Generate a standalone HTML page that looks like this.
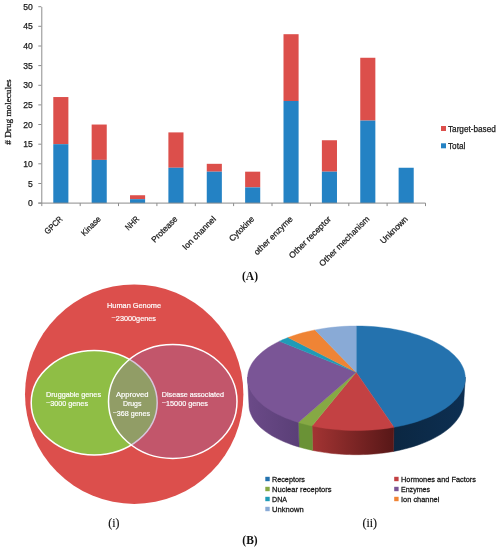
<!DOCTYPE html>
<html lang="en"><head><meta charset="utf-8"><title>Figure</title>
<style>html,body{margin:0;padding:0;background:#fff;}body{width:500px;height:550px;overflow:hidden;}svg{display:block;}text{font-family:"Liberation Sans", "DejaVu Sans", sans-serif;}.serif{font-family:"Liberation Serif", "DejaVu Serif", serif;}</style></head><body>
<svg width="500" height="550" viewBox="0 0 500 550">
<rect width="500" height="550" fill="#ffffff"/>
<g id="bars">
<rect x="53.29" y="97.04" width="15.10" height="47.14" fill="#dc4f4b"/>
<rect x="53.29" y="144.18" width="15.10" height="58.92" fill="#2482c4"/>
<rect x="91.65" y="124.54" width="15.10" height="35.35" fill="#dc4f4b"/>
<rect x="91.65" y="159.89" width="15.10" height="43.21" fill="#2482c4"/>
<rect x="130.02" y="195.24" width="15.10" height="3.93" fill="#dc4f4b"/>
<rect x="130.02" y="199.17" width="15.10" height="3.93" fill="#2482c4"/>
<rect x="168.39" y="132.40" width="15.10" height="35.35" fill="#dc4f4b"/>
<rect x="168.39" y="167.75" width="15.10" height="35.35" fill="#2482c4"/>
<rect x="206.76" y="163.82" width="15.10" height="7.86" fill="#dc4f4b"/>
<rect x="206.76" y="171.68" width="15.10" height="31.42" fill="#2482c4"/>
<rect x="245.13" y="171.68" width="15.10" height="15.71" fill="#dc4f4b"/>
<rect x="245.13" y="187.39" width="15.10" height="15.71" fill="#2482c4"/>
<rect x="283.50" y="34.20" width="15.10" height="66.78" fill="#dc4f4b"/>
<rect x="283.50" y="100.97" width="15.10" height="102.13" fill="#2482c4"/>
<rect x="321.88" y="140.25" width="15.10" height="31.42" fill="#dc4f4b"/>
<rect x="321.88" y="171.68" width="15.10" height="31.42" fill="#2482c4"/>
<rect x="360.25" y="57.76" width="15.10" height="62.85" fill="#dc4f4b"/>
<rect x="360.25" y="120.61" width="15.10" height="82.49" fill="#2482c4"/>
<rect x="398.62" y="167.75" width="15.10" height="35.35" fill="#2482c4"/>
</g>
<g stroke="#8c8c8c" stroke-width="1" fill="none">
<path d="M41.8 7 V203.1"/>
<path d="M38.3 203.1 H425.5"/>
<path d="M41.8 203.1 v3"/>
<path d="M80.2 203.1 v3"/>
<path d="M118.5 203.1 v3"/>
<path d="M156.9 203.1 v3"/>
<path d="M195.3 203.1 v3"/>
<path d="M233.6 203.1 v3"/>
<path d="M272.0 203.1 v3"/>
<path d="M310.4 203.1 v3"/>
<path d="M348.8 203.1 v3"/>
<path d="M387.1 203.1 v3"/>
<path d="M425.5 203.1 v3"/>
<path d="M38.3 203.1 h3"/>
<path d="M38.3 183.5 h3"/>
<path d="M38.3 163.8 h3"/>
<path d="M38.3 144.2 h3"/>
<path d="M38.3 124.5 h3"/>
<path d="M38.3 104.9 h3"/>
<path d="M38.3 85.3 h3"/>
<path d="M38.3 65.6 h3"/>
<path d="M38.3 46.0 h3"/>
<path d="M38.3 26.3 h3"/>
<path d="M38.3 6.7 h3"/>
</g>
<g font-size="8.6" fill="#1a1a1a" stroke="#1a1a1a" stroke-width="0.25" text-anchor="end">
<text x="32.9" y="206.1">0</text>
<text x="32.9" y="186.5">5</text>
<text x="32.9" y="166.8">10</text>
<text x="32.9" y="147.2">15</text>
<text x="32.9" y="127.5">20</text>
<text x="32.9" y="107.9">25</text>
<text x="32.9" y="88.3">30</text>
<text x="32.9" y="68.6">35</text>
<text x="32.9" y="49.0">40</text>
<text x="32.9" y="29.3">45</text>
<text x="32.9" y="9.7">50</text>
</g>
<g font-size="8.4" fill="#1a1a1a" stroke="#1a1a1a" stroke-width="0.25" text-anchor="end">
<text transform="translate(63.0 219.6) rotate(-45)" x="0" y="0" textLength="21.48" lengthAdjust="spacingAndGlyphs">GPCR</text>
<text transform="translate(101.4 219.6) rotate(-45)" x="0" y="0" textLength="23.76" lengthAdjust="spacingAndGlyphs">Kinase</text>
<text transform="translate(139.7 219.6) rotate(-45)" x="0" y="0" textLength="15.83" lengthAdjust="spacingAndGlyphs">NHR</text>
<text transform="translate(178.1 219.6) rotate(-45)" x="0" y="0" textLength="33.12" lengthAdjust="spacingAndGlyphs">Protease</text>
<text transform="translate(216.5 219.6) rotate(-45)" x="0" y="0" textLength="43.44" lengthAdjust="spacingAndGlyphs">Ion channel</text>
<text transform="translate(254.8 219.6) rotate(-45)" x="0" y="0" textLength="31.70" lengthAdjust="spacingAndGlyphs">Cytokine</text>
<text transform="translate(293.2 219.6) rotate(-45)" x="0" y="0" textLength="50.89" lengthAdjust="spacingAndGlyphs">other enzyme</text>
<text transform="translate(331.6 219.6) rotate(-45)" x="0" y="0" textLength="55.78" lengthAdjust="spacingAndGlyphs">Other receptor</text>
<text transform="translate(369.9 219.6) rotate(-45)" x="0" y="0" textLength="66.95" lengthAdjust="spacingAndGlyphs">Other mechanism</text>
<text transform="translate(408.3 219.6) rotate(-45)" x="0" y="0" textLength="35.02" lengthAdjust="spacingAndGlyphs">Unknown</text>
</g>
<text class="serif" font-size="9.2" fill="#1a1a1a" stroke="#1a1a1a" stroke-width="0.3" text-anchor="middle" transform="translate(11.3 112) rotate(-90)"># Drug molecules</text>
<rect x="441" y="126" width="5" height="5" fill="#dc4f4b"/>
<text x="448" y="131.8" font-size="8.2" fill="#1a1a1a" stroke="#1a1a1a" stroke-width="0.25">Target-based</text>
<rect x="441" y="143.3" width="5" height="5" fill="#2482c4"/>
<text x="448" y="149.1" font-size="8.2" fill="#1a1a1a" stroke="#1a1a1a" stroke-width="0.25">Total</text>
<text class="serif" font-size="11.5" font-weight="bold" fill="#111" text-anchor="middle" x="250" y="279.8">(A)</text>
<g id="venn">
<ellipse cx="134.2" cy="394.2" rx="109.2" ry="109.7" fill="#dc4f4c"/>
<ellipse cx="94.2" cy="402.75" rx="63" ry="52.25" fill="#8fbe45" stroke="#fff" stroke-width="1.5"/>
<ellipse cx="172.75" cy="401.5" rx="64.25" ry="57" fill="#9664a0" fill-opacity="0.37"/>
<ellipse cx="172.75" cy="401.5" rx="64.25" ry="57" fill="none" stroke="#fff" stroke-width="1.5"/>
<g font-size="8" fill="#fff" stroke="#fff" stroke-width="0.2" lengthAdjust="spacingAndGlyphs">
<text x="134.0" y="307.8" text-anchor="middle" textLength="54.0" lengthAdjust="spacingAndGlyphs">Human Genome</text>
<text x="133.8" y="320.8" text-anchor="middle" textLength="44.4" lengthAdjust="spacingAndGlyphs"><tspan dy="-0.9">~</tspan><tspan dy="0.9">23000genes</tspan></text>
<text x="46.0" y="396.6" text-anchor="start" textLength="55.0" lengthAdjust="spacingAndGlyphs">Druggable genes</text>
<text x="46.0" y="406.0" text-anchor="start" textLength="42.0" lengthAdjust="spacingAndGlyphs"><tspan dy="-0.9">~</tspan><tspan dy="0.9">3000 genes</tspan></text>
<text x="132.2" y="396.6" text-anchor="middle" textLength="32.6" lengthAdjust="spacingAndGlyphs">Approved</text>
<text x="132.2" y="406.0" text-anchor="middle" textLength="18.5" lengthAdjust="spacingAndGlyphs">Drugs</text>
<text x="131.4" y="415.6" text-anchor="middle" textLength="37.4" lengthAdjust="spacingAndGlyphs"><tspan dy="-0.9">~</tspan><tspan dy="0.9">368 genes</tspan></text>
<text x="161.8" y="396.6" text-anchor="start" textLength="62.2" lengthAdjust="spacingAndGlyphs">Disease associated</text>
<text x="161.8" y="406.0" text-anchor="start" textLength="46.2" lengthAdjust="spacingAndGlyphs"><tspan dy="-0.9">~</tspan><tspan dy="0.9">15000 genes</tspan></text>
</g></g>
<text class="serif" font-size="11.9" fill="#111" stroke="#111" stroke-width="0.15" text-anchor="middle" x="113.8" y="527.4">(i)</text>
<text class="serif" font-size="11.9" fill="#111" stroke="#111" stroke-width="0.15" text-anchor="middle" x="369.7" y="527.4">(ii)</text>
<text class="serif" font-size="11.5" font-weight="bold" fill="#111" text-anchor="middle" x="250" y="544.4">(B)</text>
<defs>
<linearGradient id="gred" x1="0" x2="1" y1="0" y2="0"><stop offset="0" stop-color="#a33433"/><stop offset="1" stop-color="#571717"/></linearGradient>
<linearGradient id="gblue" x1="0" x2="1" y1="0" y2="0"><stop offset="0" stop-color="#0b2742"/><stop offset="1" stop-color="#0d2f52"/></linearGradient>
<linearGradient id="gpur" x1="0" x2="1" y1="0" y2="0"><stop offset="0" stop-color="#6b4a88"/><stop offset="1" stop-color="#5a3f77"/></linearGradient>
</defs>
<g id="pie">
<path d="M465.30 377.05 L465.16 379.70 L464.74 382.35 L464.04 384.98 L463.06 387.59 L461.81 390.17 L460.29 392.72 L458.50 395.23 L456.44 397.69 L454.13 400.10 L451.57 402.45 L448.76 404.73 L445.71 406.95 L442.44 409.08 L438.94 411.13 L435.23 413.10 L431.31 414.97 L427.21 416.75 L422.92 418.42 L418.46 419.99 L413.84 421.44 L409.07 422.78 L404.16 424.01 L399.14 425.11 L394.00 426.09 L393.48 451.41 L398.55 450.41 L403.51 449.28 L408.34 448.03 L413.05 446.65 L417.60 445.16 L422.00 443.56 L426.23 441.85 L430.28 440.03 L434.14 438.11 L437.80 436.10 L441.25 434.00 L444.48 431.81 L447.49 429.54 L450.26 427.21 L452.79 424.80 L455.07 422.33 L457.09 419.81 L458.86 417.24 L460.36 414.63 L461.59 411.99 L462.56 409.32 L463.25 406.62 L463.66 403.91 L463.80 401.20Z" fill="url(#gblue)" stroke="url(#gblue)" stroke-width="0.5"/>
<path d="M394.00 426.09 L390.69 426.64 L387.35 427.15 L383.97 427.60 L380.57 428.00 L377.14 428.34 L373.69 428.64 L370.22 428.88 L366.73 429.06 L363.24 429.20 L359.74 429.28 L356.23 429.30 L352.73 429.27 L349.23 429.19 L345.74 429.05 L342.25 428.86 L338.79 428.61 L335.34 428.31 L331.91 427.96 L328.51 427.56 L325.13 427.10 L321.79 426.59 L318.49 426.03 L315.22 425.42 L312.00 424.76 L312.61 450.38 L315.79 451.01 L319.01 451.59 L322.27 452.12 L325.56 452.61 L328.89 453.04 L332.25 453.43 L335.63 453.76 L339.03 454.05 L342.45 454.28 L345.88 454.46 L349.33 454.59 L352.78 454.67 L356.24 454.70 L359.69 454.67 L363.15 454.59 L366.59 454.46 L370.03 454.27 L373.45 454.02 L376.85 453.72 L380.23 453.37 L383.59 452.96 L386.92 452.49 L390.22 451.98 L393.48 451.41Z" fill="url(#gred)" stroke="url(#gred)" stroke-width="0.5"/>
<path d="M312.00 424.76 L311.41 424.63 L310.82 424.50 L310.23 424.37 L309.65 424.24 L309.06 424.11 L308.48 423.97 L307.90 423.83 L307.32 423.69 L306.74 423.55 L306.17 423.41 L305.59 423.26 L305.02 423.12 L304.45 422.97 L303.88 422.82 L303.31 422.67 L302.75 422.52 L302.19 422.36 L301.62 422.21 L301.07 422.05 L300.51 421.89 L299.95 421.73 L299.40 421.57 L298.85 421.41 L298.30 421.24 L299.10 447.04 L299.64 447.19 L300.19 447.35 L300.73 447.50 L301.28 447.65 L301.83 447.81 L302.38 447.96 L302.93 448.10 L303.49 448.25 L304.04 448.39 L304.60 448.54 L305.16 448.68 L305.73 448.82 L306.29 448.96 L306.86 449.10 L307.43 449.23 L307.99 449.37 L308.57 449.50 L309.14 449.63 L309.71 449.76 L310.29 449.89 L310.87 450.01 L311.45 450.14 L312.03 450.26 L312.61 450.38Z" fill="#6a9236" stroke="#6a9236" stroke-width="0.5"/>
<path d="M298.30 421.24 L294.48 420.03 L290.78 418.75 L287.19 417.39 L283.72 415.96 L280.38 414.46 L277.17 412.90 L274.10 411.27 L271.18 409.58 L268.41 407.83 L265.79 406.03 L263.33 404.18 L261.04 402.28 L258.92 400.34 L256.97 398.36 L255.19 396.33 L253.59 394.28 L252.17 392.19 L250.94 390.08 L249.89 387.94 L249.03 385.79 L248.36 383.62 L247.88 381.43 L247.60 379.24 L247.50 377.05 L249.00 405.00 L249.09 407.09 L249.38 409.17 L249.85 411.25 L250.51 413.31 L251.36 415.36 L252.39 417.39 L253.61 419.40 L255.01 421.39 L256.58 423.34 L258.34 425.27 L260.26 427.15 L262.36 429.00 L264.62 430.81 L267.04 432.57 L269.62 434.28 L272.35 435.94 L275.23 437.55 L278.26 439.10 L281.42 440.58 L284.72 442.01 L288.14 443.37 L291.68 444.66 L295.34 445.89 L299.10 447.04Z" fill="url(#gpur)" stroke="url(#gpur)" stroke-width="0.5"/>
<path d="M356.20 372.30 L356.20 326.00 L361.72 326.06 L367.23 326.26 L372.72 326.59 L378.16 327.05 L383.54 327.65 L388.86 328.37 L394.09 329.23 L399.22 330.21 L404.24 331.31 L409.14 332.54 L413.91 333.88 L418.53 335.34 L422.98 336.90 L427.27 338.58 L431.37 340.35 L435.28 342.23 L438.99 344.19 L442.48 346.25 L445.75 348.38 L448.80 350.59 L451.60 352.88 L454.16 355.23 L456.47 357.64 L458.52 360.10 L460.31 362.61 L461.83 365.16 L463.07 367.74 L464.05 370.35 L464.74 372.98 L465.16 375.62 L465.30 378.27 L465.16 380.92 L464.74 383.57 L464.03 386.20 L463.06 388.80 L461.80 391.39 L460.28 393.93 L458.49 396.44 L456.43 398.90 L454.12 401.31 L451.56 403.66 L448.75 405.94 L445.70 408.15 L442.42 410.29 L438.93 412.34 L435.22 414.31 L431.30 416.18 L427.20 417.95 L422.91 419.62 L418.45 421.19 L413.83 422.64 L409.06 423.98 L404.16 425.21 L399.14 426.31 L394.00 427.29Z" fill="#2472ae" stroke="#2472ae" stroke-width="0.4"/>
<path d="M356.20 372.30 L394.00 427.29 L388.69 428.15 L383.29 428.88 L377.83 429.48 L372.30 429.94 L366.73 430.26 L361.14 430.45 L355.53 430.50 L349.93 430.41 L344.34 430.18 L338.79 429.81 L333.28 429.31 L327.83 428.67 L322.46 427.90 L317.18 426.99 L312.00 425.96Z" fill="#c34143" stroke="#c34143" stroke-width="0.4"/>
<path d="M356.20 372.30 L312.00 425.96 L308.48 425.17 L305.02 424.32 L301.62 423.41 L298.30 422.44Z" fill="#86a944" stroke="#86a944" stroke-width="0.4"/>
<path d="M356.20 372.30 L298.30 422.44 L293.66 420.96 L289.18 419.36 L284.87 417.65 L280.76 415.84 L276.84 413.93 L273.13 411.92 L269.65 409.83 L266.39 407.66 L263.36 405.41 L260.58 403.08 L258.06 400.69 L255.79 398.24 L253.79 395.74 L252.05 393.20 L250.59 390.61 L249.41 387.99 L248.51 385.35 L247.89 382.69 L247.56 380.01 L247.52 377.33 L247.76 374.66 L248.28 371.99 L249.10 369.34 L250.19 366.71 L251.56 364.11 L253.21 361.55 L255.13 359.04 L257.31 356.57 L259.76 354.17 L262.46 351.82 L265.41 349.54 L268.59 347.34 L272.01 345.23 L275.65 343.19 L279.50 341.25Z" fill="#7a5596" stroke="#7a5596" stroke-width="0.4"/>
<path d="M356.20 372.30 L279.50 341.25 L281.55 340.30 L283.65 339.37 L285.80 338.47 L288.00 337.59Z" fill="#1f9bb7" stroke="#1f9bb7" stroke-width="0.4"/>
<path d="M356.20 372.30 L288.00 337.59 L293.01 335.76 L298.24 334.08 L303.65 332.54 L309.25 331.15 L315.00 329.92Z" fill="#ef8435" stroke="#ef8435" stroke-width="0.4"/>
<path d="M356.20 372.30 L315.00 329.92 L320.65 328.90 L326.40 328.02 L332.25 327.30 L338.17 326.74 L344.15 326.33 L350.17 326.09 L356.20 326.00Z" fill="#89aad6" stroke="#89aad6" stroke-width="0.4"/>
</g>
<g font-size="7.8" fill="#161616" stroke="#161616" stroke-width="0.28">
<rect x="265.3" y="476.8" width="4.4" height="4.4" fill="#2472ae" stroke="none"/>
<text x="272.0" y="482.1" textLength="33.0" lengthAdjust="spacingAndGlyphs">Receptors</text>
<rect x="394.2" y="476.8" width="4.4" height="4.4" fill="#c34143" stroke="none"/>
<text x="401.0" y="482.1" textLength="75.0" lengthAdjust="spacingAndGlyphs">Hormones and Factors</text>
<rect x="265.3" y="486.8" width="4.4" height="4.4" fill="#86a944" stroke="none"/>
<text x="272.0" y="492.1" textLength="59.6" lengthAdjust="spacingAndGlyphs">Nuclear receptors</text>
<rect x="394.2" y="486.8" width="4.4" height="4.4" fill="#7a5596" stroke="none"/>
<text x="401.0" y="492.1" textLength="29.0" lengthAdjust="spacingAndGlyphs">Enzymes</text>
<rect x="265.3" y="496.8" width="4.4" height="4.4" fill="#1f9bb7" stroke="none"/>
<text x="272.0" y="502.1" textLength="15.0" lengthAdjust="spacingAndGlyphs">DNA</text>
<rect x="394.2" y="496.8" width="4.4" height="4.4" fill="#ef8435" stroke="none"/>
<text x="401.0" y="502.1" textLength="38.4" lengthAdjust="spacingAndGlyphs">Ion channel</text>
<rect x="265.3" y="506.8" width="4.4" height="4.4" fill="#89aad6" stroke="none"/>
<text x="272.0" y="512.1" textLength="31.6" lengthAdjust="spacingAndGlyphs">Unknown</text>
</g>
</svg></body></html>
